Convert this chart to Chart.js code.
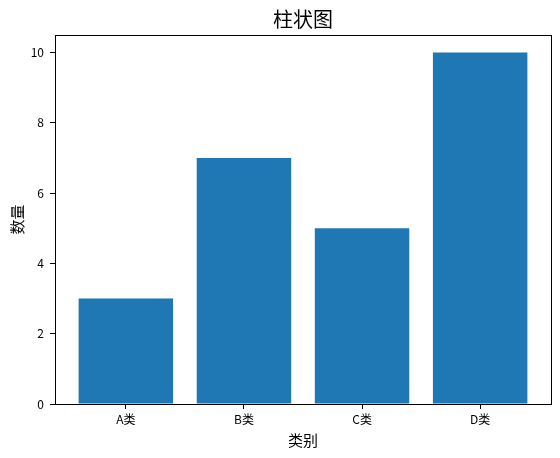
<!DOCTYPE html>
<html><head><meta charset="utf-8">
<script src="https://cdn.jsdelivr.net/npm/chart.js@4"></script>
<style>html,body{margin:0;padding:0;background:#fff}#wrap{width:560px;height:458px}</style>
</head><body><div id="wrap"><canvas id="c" width="560" height="458"></canvas></div>
<script>
const categories = ["A类", "B类", "C类", "D类"];
const values = [3, 7, 5, 10];
const yTicks = [0, 2, 4, 6, 8, 10];
const titleText = "柱状图";
const xTitle = "类别";
const yTitle = "数量";

const FONT = '"Noto Sans CJK SC", "DejaVu Sans", sans-serif';

const framePlugin = {
  id: 'frame',
  afterDraw(chart) {
    const {ctx, chartArea: a} = chart;
    ctx.save();
    ctx.strokeStyle = '#000';
    ctx.lineWidth = 1;
    ctx.strokeRect(Math.round(a.left) + 0.5, Math.round(a.top) + 0.5, Math.round(a.right - a.left), Math.round(a.bottom - a.top));
    ctx.fillStyle = '#000';
    ctx.textAlign = 'center';
    ctx.textBaseline = 'middle';
    ctx.font = '20px ' + FONT;
    ctx.fillText(titleText, (a.left + a.right) / 2, 19);
    ctx.font = '15px ' + FONT;
    ctx.fillText(xTitle, (a.left + a.right) / 2, 440);
    ctx.translate(17, (a.top + a.bottom) / 2);
    ctx.rotate(-Math.PI / 2);
    ctx.fillText(yTitle, 0, 0);
    ctx.restore();
  }
};

new Chart(document.getElementById('c'), {
  type: 'bar',
  data: {
    datasets: [{
      data: categories.map((c, i) => ({x: i, y: values[i]})),
      backgroundColor: '#1f77b4',
      borderWidth: 0,
      inflateAmount: 0,
      barPercentage: 1.0,
      categoryPercentage: 0.8
    }]
  },
  options: {
    responsive: false,
    animation: false,
    devicePixelRatio: 1,
    layout: {padding: {top: 35, right: 9, left: 0, bottom: 0}},
    plugins: {legend: {display: false}, tooltip: {enabled: false}, title: {display: false}},
    scales: {
      x: {
        type: 'linear',
        min: -0.6, max: 3.6,
        offset: false,
        afterBuildTicks: s => { s.ticks = categories.map((c, i) => ({value: i})); },
        afterFit: s => { s.height = 54; },
        ticks: {
          callback: v => categories[v] ?? '',
          color: '#000', font: {family: FONT, size: 12}, padding: 3, maxRotation: 0, autoSkip: false
        },
        grid: {offset: false, drawOnChartArea: false, drawTicks: true, tickLength: 5, color: '#000'},
        border: {display: true, color: '#000'}
      },
      y: {
        type: 'linear',
        min: 0, max: 10.5,
        afterBuildTicks: s => { s.ticks = yTicks.map(v => ({value: v})); },
        afterFit: s => { s.width = 55; },
        ticks: {color: '#000', font: {family: FONT, size: 12}, padding: 6},
        grid: {offset: false, drawOnChartArea: false, drawTicks: true, tickLength: 5, color: '#000'},
        border: {display: true, color: '#000'}
      }
    }
  },
  plugins: [framePlugin]
});
</script>
</body></html>
